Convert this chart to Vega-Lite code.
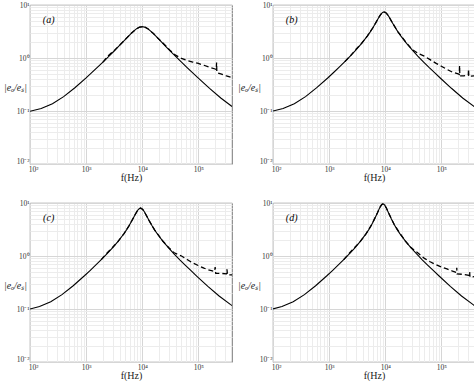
{
  "$schema": "https://vega.github.io/schema/vega-lite/v6.json",
  "background": "white",
  "padding": {"left": 3, "top": 0, "right": 0, "bottom": 0},
  "config": {
    "view": {"stroke": "#555555", "strokeWidth": 0.8},
    "font": "Liberation Serif",
    "axis": {"labelFont": "Liberation Serif", "titleFont": "Liberation Serif", "labelFontSize": 7.5, "titleFontSize": 10, "titleFontWeight": "normal", "labelColor": "#333333", "titleColor": "#222222", "ticks": false, "domain": false, "labelFlush": false, "labelOverlap": false, "labelPadding": 1},
    "axisX": {"titlePadding": 0, "labelOffset": {"condition": {"test": "datum.value == 100", "value": 3}, "value": 0}},
    "axisY": {"labelOffset": {"condition": {"test": "datum.value == 0.01", "value": -3}, "value": 0}}
  },
  "datasets": {
    "curves": [
      {"p":"a","s":"solid","f":100,"v":0.0989},{"p":"a","s":"solid","f":158.5,"v":0.111},{"p":"a","s":"solid","f":251.2,"v":0.1369},{"p":"a","s":"solid","f":398.1,"v":0.1867},{"p":"a","s":"solid","f":631,"v":0.2747},{"p":"a","s":"solid","f":1000,"v":0.4217},{"p":"a","s":"solid","f":1259,"v":0.5277},{"p":"a","s":"solid","f":1585,"v":0.664},{"p":"a","s":"solid","f":1995,"v":0.838},{"p":"a","s":"solid","f":2512,"v":1.063},{"p":"a","s":"solid","f":3162,"v":1.356},{"p":"a","s":"solid","f":3981,"v":1.741},{"p":"a","s":"solid","f":5012,"v":2.25},{"p":"a","s":"solid","f":6310,"v":2.89},{"p":"a","s":"solid","f":7943,"v":3.57},{"p":"a","s":"solid","f":8913,"v":3.81},{"p":"a","s":"solid","f":10000,"v":3.9},{"p":"a","s":"solid","f":11220,"v":3.81},{"p":"a","s":"solid","f":12589,"v":3.57},{"p":"a","s":"solid","f":15849,"v":2.89},{"p":"a","s":"solid","f":19953,"v":2.25},{"p":"a","s":"solid","f":25119,"v":1.739},{"p":"a","s":"solid","f":31623,"v":1.353},{"p":"a","s":"solid","f":39811,"v":1.059},{"p":"a","s":"solid","f":50119,"v":0.833},{"p":"a","s":"solid","f":63096,"v":0.661},{"p":"a","s":"solid","f":79433,"v":0.524},{"p":"a","s":"solid","f":100000,"v":0.417},{"p":"a","s":"solid","f":158489,"v":0.2675},{"p":"a","s":"solid","f":251189,"v":0.176},{"p":"a","s":"solid","f":398107,"v":0.1219},
      {"p":"a","s":"dashed","f":1995,"v":0.838},{"p":"a","s":"dashed","f":2512,"v":1.12},{"p":"a","s":"dashed","f":3162,"v":1.38},{"p":"a","s":"dashed","f":3981,"v":1.76},{"p":"a","s":"dashed","f":5012,"v":2.25},{"p":"a","s":"dashed","f":6310,"v":2.89},{"p":"a","s":"dashed","f":7943,"v":3.57},{"p":"a","s":"dashed","f":8913,"v":3.81},{"p":"a","s":"dashed","f":10000,"v":3.9},{"p":"a","s":"dashed","f":11220,"v":3.81},{"p":"a","s":"dashed","f":12589,"v":3.57},{"p":"a","s":"dashed","f":15849,"v":2.89},{"p":"a","s":"dashed","f":19953,"v":2.25},{"p":"a","s":"dashed","f":25119,"v":1.78},{"p":"a","s":"dashed","f":31623,"v":1.38},{"p":"a","s":"dashed","f":39811,"v":1.12},{"p":"a","s":"dashed","f":50119,"v":0.98},{"p":"a","s":"dashed","f":63096,"v":0.9},{"p":"a","s":"dashed","f":79433,"v":0.84},{"p":"a","s":"dashed","f":100000,"v":0.79},{"p":"a","s":"dashed","f":125893,"v":0.73},{"p":"a","s":"dashed","f":158489,"v":0.67},{"p":"a","s":"dashed","f":199526,"v":0.62},{"p":"a","s":"dashed","f":208930,"v":0.6},{"p":"a","s":"dashed","f":211349,"v":0.82},{"p":"a","s":"dashed","f":213796,"v":0.53},{"p":"a","s":"dashed","f":251189,"v":0.5},{"p":"a","s":"dashed","f":316228,"v":0.46},{"p":"a","s":"dashed","f":398107,"v":0.43},
      {"p":"b","s":"solid","f":100,"v":0.0998},{"p":"b","s":"solid","f":151.4,"v":0.1111},{"p":"b","s":"solid","f":239.9,"v":0.137},{"p":"b","s":"solid","f":380.2,"v":0.187},{"p":"b","s":"solid","f":602.6,"v":0.2754},{"p":"b","s":"solid","f":955,"v":0.4243},{"p":"b","s":"solid","f":1202,"v":0.5323},{"p":"b","s":"solid","f":1514,"v":0.6718},{"p":"b","s":"solid","f":1905,"v":0.8534},{"p":"b","s":"solid","f":2399,"v":1.0937},{"p":"b","s":"solid","f":3020,"v":1.421},{"p":"b","s":"solid","f":3802,"v":1.883},{"p":"b","s":"solid","f":4786,"v":2.58},{"p":"b","s":"solid","f":5370,"v":3.075},{"p":"b","s":"solid","f":6026,"v":3.72},{"p":"b","s":"solid","f":6761,"v":4.58},{"p":"b","s":"solid","f":7586,"v":5.68},{"p":"b","s":"solid","f":7943,"v":6.16},{"p":"b","s":"solid","f":8318,"v":6.62},{"p":"b","s":"solid","f":8710,"v":7.02},{"p":"b","s":"solid","f":9120,"v":7.3},{"p":"b","s":"solid","f":9550,"v":7.4},{"p":"b","s":"solid","f":10000,"v":7.3},{"p":"b","s":"solid","f":10471,"v":7.02},{"p":"b","s":"solid","f":10965,"v":6.62},{"p":"b","s":"solid","f":11482,"v":6.16},{"p":"b","s":"solid","f":12023,"v":5.68},{"p":"b","s":"solid","f":13490,"v":4.58},{"p":"b","s":"solid","f":15136,"v":3.72},{"p":"b","s":"solid","f":16982,"v":3.075},{"p":"b","s":"solid","f":19055,"v":2.58},{"p":"b","s":"solid","f":23988,"v":1.881},{"p":"b","s":"solid","f":30200,"v":1.418},{"p":"b","s":"solid","f":38019,"v":1.09},{"p":"b","s":"solid","f":47863,"v":0.849},{"p":"b","s":"solid","f":60256,"v":0.666},{"p":"b","s":"solid","f":75858,"v":0.5286},{"p":"b","s":"solid","f":95499,"v":0.4197},{"p":"b","s":"solid","f":151356,"v":0.2683},{"p":"b","s":"solid","f":239883,"v":0.1763},{"p":"b","s":"solid","f":380189,"v":0.1221},{"p":"b","s":"solid","f":398107,"v":0.1182},
      {"p":"b","s":"dashed","f":1905,"v":0.853},{"p":"b","s":"dashed","f":2399,"v":1.1},{"p":"b","s":"dashed","f":3020,"v":1.47},{"p":"b","s":"dashed","f":3802,"v":1.9},{"p":"b","s":"dashed","f":4786,"v":2.58},{"p":"b","s":"dashed","f":6026,"v":3.72},{"p":"b","s":"dashed","f":7586,"v":5.68},{"p":"b","s":"dashed","f":8318,"v":6.62},{"p":"b","s":"dashed","f":8710,"v":7.02},{"p":"b","s":"dashed","f":9550,"v":7.4},{"p":"b","s":"dashed","f":10471,"v":7.02},{"p":"b","s":"dashed","f":11482,"v":6.16},{"p":"b","s":"dashed","f":13490,"v":4.58},{"p":"b","s":"dashed","f":16982,"v":3.075},{"p":"b","s":"dashed","f":19055,"v":2.65},{"p":"b","s":"dashed","f":23988,"v":1.92},{"p":"b","s":"dashed","f":30200,"v":1.45},{"p":"b","s":"dashed","f":39811,"v":1.2},{"p":"b","s":"dashed","f":50119,"v":1.08},{"p":"b","s":"dashed","f":63096,"v":0.93},{"p":"b","s":"dashed","f":79433,"v":0.8},{"p":"b","s":"dashed","f":100000,"v":0.7},{"p":"b","s":"dashed","f":125893,"v":0.61},{"p":"b","s":"dashed","f":158489,"v":0.54},{"p":"b","s":"dashed","f":199526,"v":0.5},{"p":"b","s":"dashed","f":208930,"v":0.49},{"p":"b","s":"dashed","f":211349,"v":0.72},{"p":"b","s":"dashed","f":213796,"v":0.46},{"p":"b","s":"dashed","f":251189,"v":0.46},{"p":"b","s":"dashed","f":301995,"v":0.47},{"p":"b","s":"dashed","f":305490,"v":0.62},{"p":"b","s":"dashed","f":309030,"v":0.45},{"p":"b","s":"dashed","f":398107,"v":0.46},
      {"p":"c","s":"solid","f":100,"v":0.1002},{"p":"c","s":"solid","f":147.9,"v":0.111},{"p":"c","s":"solid","f":234.4,"v":0.137},{"p":"c","s":"solid","f":371.5,"v":0.1867},{"p":"c","s":"solid","f":588.8,"v":0.275},{"p":"c","s":"solid","f":933.3,"v":0.4235},{"p":"c","s":"solid","f":1175,"v":0.5314},{"p":"c","s":"solid","f":1479,"v":0.6707},{"p":"c","s":"solid","f":1862,"v":0.8525},{"p":"c","s":"solid","f":2344,"v":1.0933},{"p":"c","s":"solid","f":2951,"v":1.422},{"p":"c","s":"solid","f":3715,"v":1.888},{"p":"c","s":"solid","f":4677,"v":2.597},{"p":"c","s":"solid","f":5248,"v":3.109},{"p":"c","s":"solid","f":5888,"v":3.788},{"p":"c","s":"solid","f":6607,"v":4.708},{"p":"c","s":"solid","f":7413,"v":5.929},{"p":"c","s":"solid","f":7762,"v":6.485},{"p":"c","s":"solid","f":8128,"v":7.037},{"p":"c","s":"solid","f":8511,"v":7.528},{"p":"c","s":"solid","f":8913,"v":7.874},{"p":"c","s":"solid","f":9333,"v":8.0},{"p":"c","s":"solid","f":9772,"v":7.874},{"p":"c","s":"solid","f":10233,"v":7.528},{"p":"c","s":"solid","f":10715,"v":7.037},{"p":"c","s":"solid","f":11220,"v":6.485},{"p":"c","s":"solid","f":11749,"v":5.929},{"p":"c","s":"solid","f":13183,"v":4.708},{"p":"c","s":"solid","f":14791,"v":3.788},{"p":"c","s":"solid","f":16596,"v":3.109},{"p":"c","s":"solid","f":18621,"v":2.597},{"p":"c","s":"solid","f":23442,"v":1.886},{"p":"c","s":"solid","f":29512,"v":1.419},{"p":"c","s":"solid","f":37154,"v":1.0896},{"p":"c","s":"solid","f":46774,"v":0.848},{"p":"c","s":"solid","f":58884,"v":0.668},{"p":"c","s":"solid","f":74131,"v":0.5277},{"p":"c","s":"solid","f":93325,"v":0.4189},{"p":"c","s":"solid","f":147911,"v":0.2678},{"p":"c","s":"solid","f":234423,"v":0.1761},{"p":"c","s":"solid","f":371535,"v":0.1222},{"p":"c","s":"solid","f":398107,"v":0.1161},
      {"p":"c","s":"dashed","f":1862,"v":0.8525},{"p":"c","s":"dashed","f":2344,"v":1.13},{"p":"c","s":"dashed","f":2951,"v":1.45},{"p":"c","s":"dashed","f":3715,"v":1.888},{"p":"c","s":"dashed","f":4677,"v":2.597},{"p":"c","s":"dashed","f":5888,"v":3.788},{"p":"c","s":"dashed","f":7413,"v":5.929},{"p":"c","s":"dashed","f":8128,"v":7.037},{"p":"c","s":"dashed","f":8511,"v":7.528},{"p":"c","s":"dashed","f":9333,"v":8.0},{"p":"c","s":"dashed","f":10233,"v":7.528},{"p":"c","s":"dashed","f":10715,"v":7.037},{"p":"c","s":"dashed","f":11220,"v":6.485},{"p":"c","s":"dashed","f":13183,"v":4.708},{"p":"c","s":"dashed","f":16596,"v":3.109},{"p":"c","s":"dashed","f":18621,"v":2.65},{"p":"c","s":"dashed","f":23442,"v":1.9},{"p":"c","s":"dashed","f":29512,"v":1.45},{"p":"c","s":"dashed","f":37154,"v":1.15},{"p":"c","s":"dashed","f":50119,"v":1.0},{"p":"c","s":"dashed","f":63096,"v":0.86},{"p":"c","s":"dashed","f":79433,"v":0.74},{"p":"c","s":"dashed","f":100000,"v":0.66},{"p":"c","s":"dashed","f":125893,"v":0.59},{"p":"c","s":"dashed","f":158489,"v":0.54},{"p":"c","s":"dashed","f":194984,"v":0.51},{"p":"c","s":"dashed","f":199526,"v":0.62},{"p":"c","s":"dashed","f":204174,"v":0.47},{"p":"c","s":"dashed","f":251189,"v":0.47},{"p":"c","s":"dashed","f":316228,"v":0.46},{"p":"c","s":"dashed","f":323594,"v":0.56},{"p":"c","s":"dashed","f":331131,"v":0.44},{"p":"c","s":"dashed","f":398107,"v":0.44},
      {"p":"d","s":"solid","f":100,"v":0.1006},{"p":"d","s":"solid","f":144.5,"v":0.111},{"p":"d","s":"solid","f":229.1,"v":0.137},{"p":"d","s":"solid","f":363.1,"v":0.1867},{"p":"d","s":"solid","f":575.4,"v":0.275},{"p":"d","s":"solid","f":912,"v":0.4237},{"p":"d","s":"solid","f":1148,"v":0.5316},{"p":"d","s":"solid","f":1445,"v":0.6713},{"p":"d","s":"solid","f":1820,"v":0.854},{"p":"d","s":"solid","f":2291,"v":1.0965},{"p":"d","s":"solid","f":2884,"v":1.428},{"p":"d","s":"solid","f":3631,"v":1.904},{"p":"d","s":"solid","f":4571,"v":2.64},{"p":"d","s":"solid","f":5129,"v":3.183},{"p":"d","s":"solid","f":5754,"v":3.925},{"p":"d","s":"solid","f":6457,"v":4.978},{"p":"d","s":"solid","f":7244,"v":6.499},{"p":"d","s":"solid","f":7586,"v":7.253},{"p":"d","s":"solid","f":7943,"v":8.054},{"p":"d","s":"solid","f":8318,"v":8.814},{"p":"d","s":"solid","f":8710,"v":9.385},{"p":"d","s":"solid","f":9120,"v":9.6},{"p":"d","s":"solid","f":9550,"v":9.385},{"p":"d","s":"solid","f":10000,"v":8.814},{"p":"d","s":"solid","f":10471,"v":8.054},{"p":"d","s":"solid","f":10965,"v":7.253},{"p":"d","s":"solid","f":11482,"v":6.499},{"p":"d","s":"solid","f":12882,"v":4.978},{"p":"d","s":"solid","f":14454,"v":3.925},{"p":"d","s":"solid","f":16218,"v":3.183},{"p":"d","s":"solid","f":18197,"v":2.64},{"p":"d","s":"solid","f":22909,"v":1.902},{"p":"d","s":"solid","f":28840,"v":1.4255},{"p":"d","s":"solid","f":36308,"v":1.0928},{"p":"d","s":"solid","f":45709,"v":0.849},{"p":"d","s":"solid","f":57544,"v":0.668},{"p":"d","s":"solid","f":72444,"v":0.528},{"p":"d","s":"solid","f":91201,"v":0.419},{"p":"d","s":"solid","f":144544,"v":0.268},{"p":"d","s":"solid","f":229087,"v":0.176},{"p":"d","s":"solid","f":363078,"v":0.122},{"p":"d","s":"solid","f":398107,"v":0.1143},
      {"p":"d","s":"dashed","f":1820,"v":0.854},{"p":"d","s":"dashed","f":2291,"v":1.13},{"p":"d","s":"dashed","f":2884,"v":1.47},{"p":"d","s":"dashed","f":3631,"v":1.904},{"p":"d","s":"dashed","f":4571,"v":2.64},{"p":"d","s":"dashed","f":5754,"v":3.925},{"p":"d","s":"dashed","f":7244,"v":6.499},{"p":"d","s":"dashed","f":7943,"v":8.054},{"p":"d","s":"dashed","f":8710,"v":9.385},{"p":"d","s":"dashed","f":9120,"v":9.6},{"p":"d","s":"dashed","f":9550,"v":9.385},{"p":"d","s":"dashed","f":10471,"v":8.054},{"p":"d","s":"dashed","f":11482,"v":6.499},{"p":"d","s":"dashed","f":14454,"v":3.925},{"p":"d","s":"dashed","f":18197,"v":2.7},{"p":"d","s":"dashed","f":22909,"v":1.902},{"p":"d","s":"dashed","f":28840,"v":1.44},{"p":"d","s":"dashed","f":39811,"v":1.1},{"p":"d","s":"dashed","f":50119,"v":0.9},{"p":"d","s":"dashed","f":63096,"v":0.78},{"p":"d","s":"dashed","f":79433,"v":0.69},{"p":"d","s":"dashed","f":100000,"v":0.62},{"p":"d","s":"dashed","f":125893,"v":0.57},{"p":"d","s":"dashed","f":158489,"v":0.52},{"p":"d","s":"dashed","f":186209,"v":0.49},{"p":"d","s":"dashed","f":188365,"v":0.6},{"p":"d","s":"dashed","f":190546,"v":0.46},{"p":"d","s":"dashed","f":245471,"v":0.45},{"p":"d","s":"dashed","f":316228,"v":0.43},{"p":"d","s":"dashed","f":319890,"v":0.5},{"p":"d","s":"dashed","f":323594,"v":0.4},{"p":"d","s":"dashed","f":398107,"v":0.41},
      {"p":"a","s":"label","f":215,"v":5.2,"t":"(a)"},{"p":"b","s":"label","f":215,"v":5.2,"t":"(b)"},{"p":"c","s":"label","f":215,"v":5.2,"t":"(c)"},{"p":"d","s":"label","f":215,"v":5.2,"t":"(d)"}
    ]
  },
  "data": {"name": "curves"},
  "columns": 2,
  "spacing": {"row": 39, "column": 41},
  "bounds": "flush",
  "concat": [
    {
      "width": 202, "height": 159,
      "transform": [{"filter": "datum.p == 'a'"}],
      "encoding": {
        "x": {"field": "f", "type": "quantitative", "scale": {"type": "log", "domain": [100, 398107], "nice": false},
          "axis": {"title": "f(Hz)", "values": [100,200,300,400,500,600,700,800,900,1000,2000,3000,4000,5000,6000,7000,8000,9000,10000,20000,30000,40000,50000,60000,70000,80000,90000,100000,200000,300000],
            "labelExpr": "datum.value == 100 ? '10²' : datum.value == 1000 ? '10³' : datum.value == 10000 ? '10⁴' : datum.value == 100000 ? '10⁵' : ''",
            "gridColor": {"condition": {"test": "datum.value == 100 || datum.value == 1000 || datum.value == 10000 || datum.value == 100000", "value": "#d6d6d6"}, "value": "#ececec"}}},
        "y": {"field": "v", "type": "quantitative", "scale": {"type": "log", "domain": [0.01, 10], "nice": false},
          "axis": {"title": "|eₒ/eₛ|", "titleAngle": 0, "titleX": -15, "titleY": 82, "titleAlign": "center", "titleBaseline": "middle", "titleFontStyle": "italic", "titleFontSize": 10,
            "values": [0.01,0.02,0.03,0.04,0.05,0.06,0.07,0.08,0.09,0.1,0.2,0.3,0.4,0.5,0.6,0.7,0.8,0.9,1,2,3,4,5,6,7,8,9,10],
            "labelExpr": "datum.value == 0.01 ? '10⁻²' : datum.value == 0.1 ? '10⁻¹' : datum.value == 1 ? '10⁰' : datum.value == 10 ? '10¹' : ''",
            "gridColor": {"condition": {"test": "datum.value == 0.01 || datum.value == 0.1 || datum.value == 1 || datum.value == 10", "value": "#d6d6d6"}, "value": "#ececec"}}}
      },
      "layer": [
        {"transform": [{"filter": "datum.s == 'solid'"}], "mark": {"type": "line", "color": "black", "strokeWidth": 1.1, "clip": true}},
        {"transform": [{"filter": "datum.s == 'dashed'"}], "mark": {"type": "line", "color": "black", "strokeWidth": 1.3, "strokeDash": [5, 3], "clip": true}},
        {"transform": [{"filter": "datum.s == 'label'"}], "mark": {"type": "text", "fontStyle": "italic", "fontSize": 10, "font": "Liberation Serif"}, "encoding": {"text": {"field": "t"}}}
      ]
    },
    {
      "width": 202, "height": 159,
      "transform": [{"filter": "datum.p == 'b'"}],
      "encoding": {
        "x": {"field": "f", "type": "quantitative", "scale": {"type": "log", "domain": [100, 398107], "nice": false},
          "axis": {"title": "f(Hz)", "values": [100,200,300,400,500,600,700,800,900,1000,2000,3000,4000,5000,6000,7000,8000,9000,10000,20000,30000,40000,50000,60000,70000,80000,90000,100000,200000,300000],
            "labelExpr": "datum.value == 100 ? '10²' : datum.value == 1000 ? '10³' : datum.value == 10000 ? '10⁴' : datum.value == 100000 ? '10⁵' : ''",
            "gridColor": {"condition": {"test": "datum.value == 100 || datum.value == 1000 || datum.value == 10000 || datum.value == 100000", "value": "#d6d6d6"}, "value": "#ececec"}}},
        "y": {"field": "v", "type": "quantitative", "scale": {"type": "log", "domain": [0.01, 10], "nice": false},
          "axis": {"title": "|eₒ/eₛ|", "titleAngle": 0, "titleX": -24, "titleY": 82, "titleAlign": "center", "titleBaseline": "middle", "titleFontStyle": "italic", "titleFontSize": 10,
            "values": [0.01,0.02,0.03,0.04,0.05,0.06,0.07,0.08,0.09,0.1,0.2,0.3,0.4,0.5,0.6,0.7,0.8,0.9,1,2,3,4,5,6,7,8,9,10],
            "labelExpr": "datum.value == 0.01 ? '10⁻²' : datum.value == 0.1 ? '10⁻¹' : datum.value == 1 ? '10⁰' : datum.value == 10 ? '10¹' : ''",
            "gridColor": {"condition": {"test": "datum.value == 0.01 || datum.value == 0.1 || datum.value == 1 || datum.value == 10", "value": "#d6d6d6"}, "value": "#ececec"}}}
      },
      "layer": [
        {"transform": [{"filter": "datum.s == 'solid'"}], "mark": {"type": "line", "color": "black", "strokeWidth": 1.1, "clip": true}},
        {"transform": [{"filter": "datum.s == 'dashed'"}], "mark": {"type": "line", "color": "black", "strokeWidth": 1.3, "strokeDash": [5, 3], "clip": true}},
        {"transform": [{"filter": "datum.s == 'label'"}], "mark": {"type": "text", "fontStyle": "italic", "fontSize": 10, "font": "Liberation Serif"}, "encoding": {"text": {"field": "t"}}}
      ]
    },
    {
      "width": 202, "height": 159,
      "transform": [{"filter": "datum.p == 'c'"}],
      "encoding": {
        "x": {"field": "f", "type": "quantitative", "scale": {"type": "log", "domain": [100, 398107], "nice": false},
          "axis": {"title": "f(Hz)", "values": [100,200,300,400,500,600,700,800,900,1000,2000,3000,4000,5000,6000,7000,8000,9000,10000,20000,30000,40000,50000,60000,70000,80000,90000,100000,200000,300000],
            "labelExpr": "datum.value == 100 ? '10²' : datum.value == 1000 ? '10³' : datum.value == 10000 ? '10⁴' : datum.value == 100000 ? '10⁵' : ''",
            "gridColor": {"condition": {"test": "datum.value == 100 || datum.value == 1000 || datum.value == 10000 || datum.value == 100000", "value": "#d6d6d6"}, "value": "#ececec"}}},
        "y": {"field": "v", "type": "quantitative", "scale": {"type": "log", "domain": [0.01, 10], "nice": false},
          "axis": {"title": "|eₒ/eₛ|", "titleAngle": 0, "titleX": -15, "titleY": 82, "titleAlign": "center", "titleBaseline": "middle", "titleFontStyle": "italic", "titleFontSize": 10,
            "values": [0.01,0.02,0.03,0.04,0.05,0.06,0.07,0.08,0.09,0.1,0.2,0.3,0.4,0.5,0.6,0.7,0.8,0.9,1,2,3,4,5,6,7,8,9,10],
            "labelExpr": "datum.value == 0.01 ? '10⁻²' : datum.value == 0.1 ? '10⁻¹' : datum.value == 1 ? '10⁰' : datum.value == 10 ? '10¹' : ''",
            "gridColor": {"condition": {"test": "datum.value == 0.01 || datum.value == 0.1 || datum.value == 1 || datum.value == 10", "value": "#d6d6d6"}, "value": "#ececec"}}}
      },
      "layer": [
        {"transform": [{"filter": "datum.s == 'solid'"}], "mark": {"type": "line", "color": "black", "strokeWidth": 1.1, "clip": true}},
        {"transform": [{"filter": "datum.s == 'dashed'"}], "mark": {"type": "line", "color": "black", "strokeWidth": 1.3, "strokeDash": [5, 3], "clip": true}},
        {"transform": [{"filter": "datum.s == 'label'"}], "mark": {"type": "text", "fontStyle": "italic", "fontSize": 10, "font": "Liberation Serif"}, "encoding": {"text": {"field": "t"}}}
      ]
    },
    {
      "width": 202, "height": 159,
      "transform": [{"filter": "datum.p == 'd'"}],
      "encoding": {
        "x": {"field": "f", "type": "quantitative", "scale": {"type": "log", "domain": [100, 398107], "nice": false},
          "axis": {"title": "f(Hz)", "values": [100,200,300,400,500,600,700,800,900,1000,2000,3000,4000,5000,6000,7000,8000,9000,10000,20000,30000,40000,50000,60000,70000,80000,90000,100000,200000,300000],
            "labelExpr": "datum.value == 100 ? '10²' : datum.value == 1000 ? '10³' : datum.value == 10000 ? '10⁴' : datum.value == 100000 ? '10⁵' : ''",
            "gridColor": {"condition": {"test": "datum.value == 100 || datum.value == 1000 || datum.value == 10000 || datum.value == 100000", "value": "#d6d6d6"}, "value": "#ececec"}}},
        "y": {"field": "v", "type": "quantitative", "scale": {"type": "log", "domain": [0.01, 10], "nice": false},
          "axis": {"title": "|eₒ/eₛ|", "titleAngle": 0, "titleX": -24, "titleY": 82, "titleAlign": "center", "titleBaseline": "middle", "titleFontStyle": "italic", "titleFontSize": 10,
            "values": [0.01,0.02,0.03,0.04,0.05,0.06,0.07,0.08,0.09,0.1,0.2,0.3,0.4,0.5,0.6,0.7,0.8,0.9,1,2,3,4,5,6,7,8,9,10],
            "labelExpr": "datum.value == 0.01 ? '10⁻²' : datum.value == 0.1 ? '10⁻¹' : datum.value == 1 ? '10⁰' : datum.value == 10 ? '10¹' : ''",
            "gridColor": {"condition": {"test": "datum.value == 0.01 || datum.value == 0.1 || datum.value == 1 || datum.value == 10", "value": "#d6d6d6"}, "value": "#ececec"}}}
      },
      "layer": [
        {"transform": [{"filter": "datum.s == 'solid'"}], "mark": {"type": "line", "color": "black", "strokeWidth": 1.1, "clip": true}},
        {"transform": [{"filter": "datum.s == 'dashed'"}], "mark": {"type": "line", "color": "black", "strokeWidth": 1.3, "strokeDash": [5, 3], "clip": true}},
        {"transform": [{"filter": "datum.s == 'label'"}], "mark": {"type": "text", "fontStyle": "italic", "fontSize": 10, "font": "Liberation Serif"}, "encoding": {"text": {"field": "t"}}}
      ]
    }
  ]
}
